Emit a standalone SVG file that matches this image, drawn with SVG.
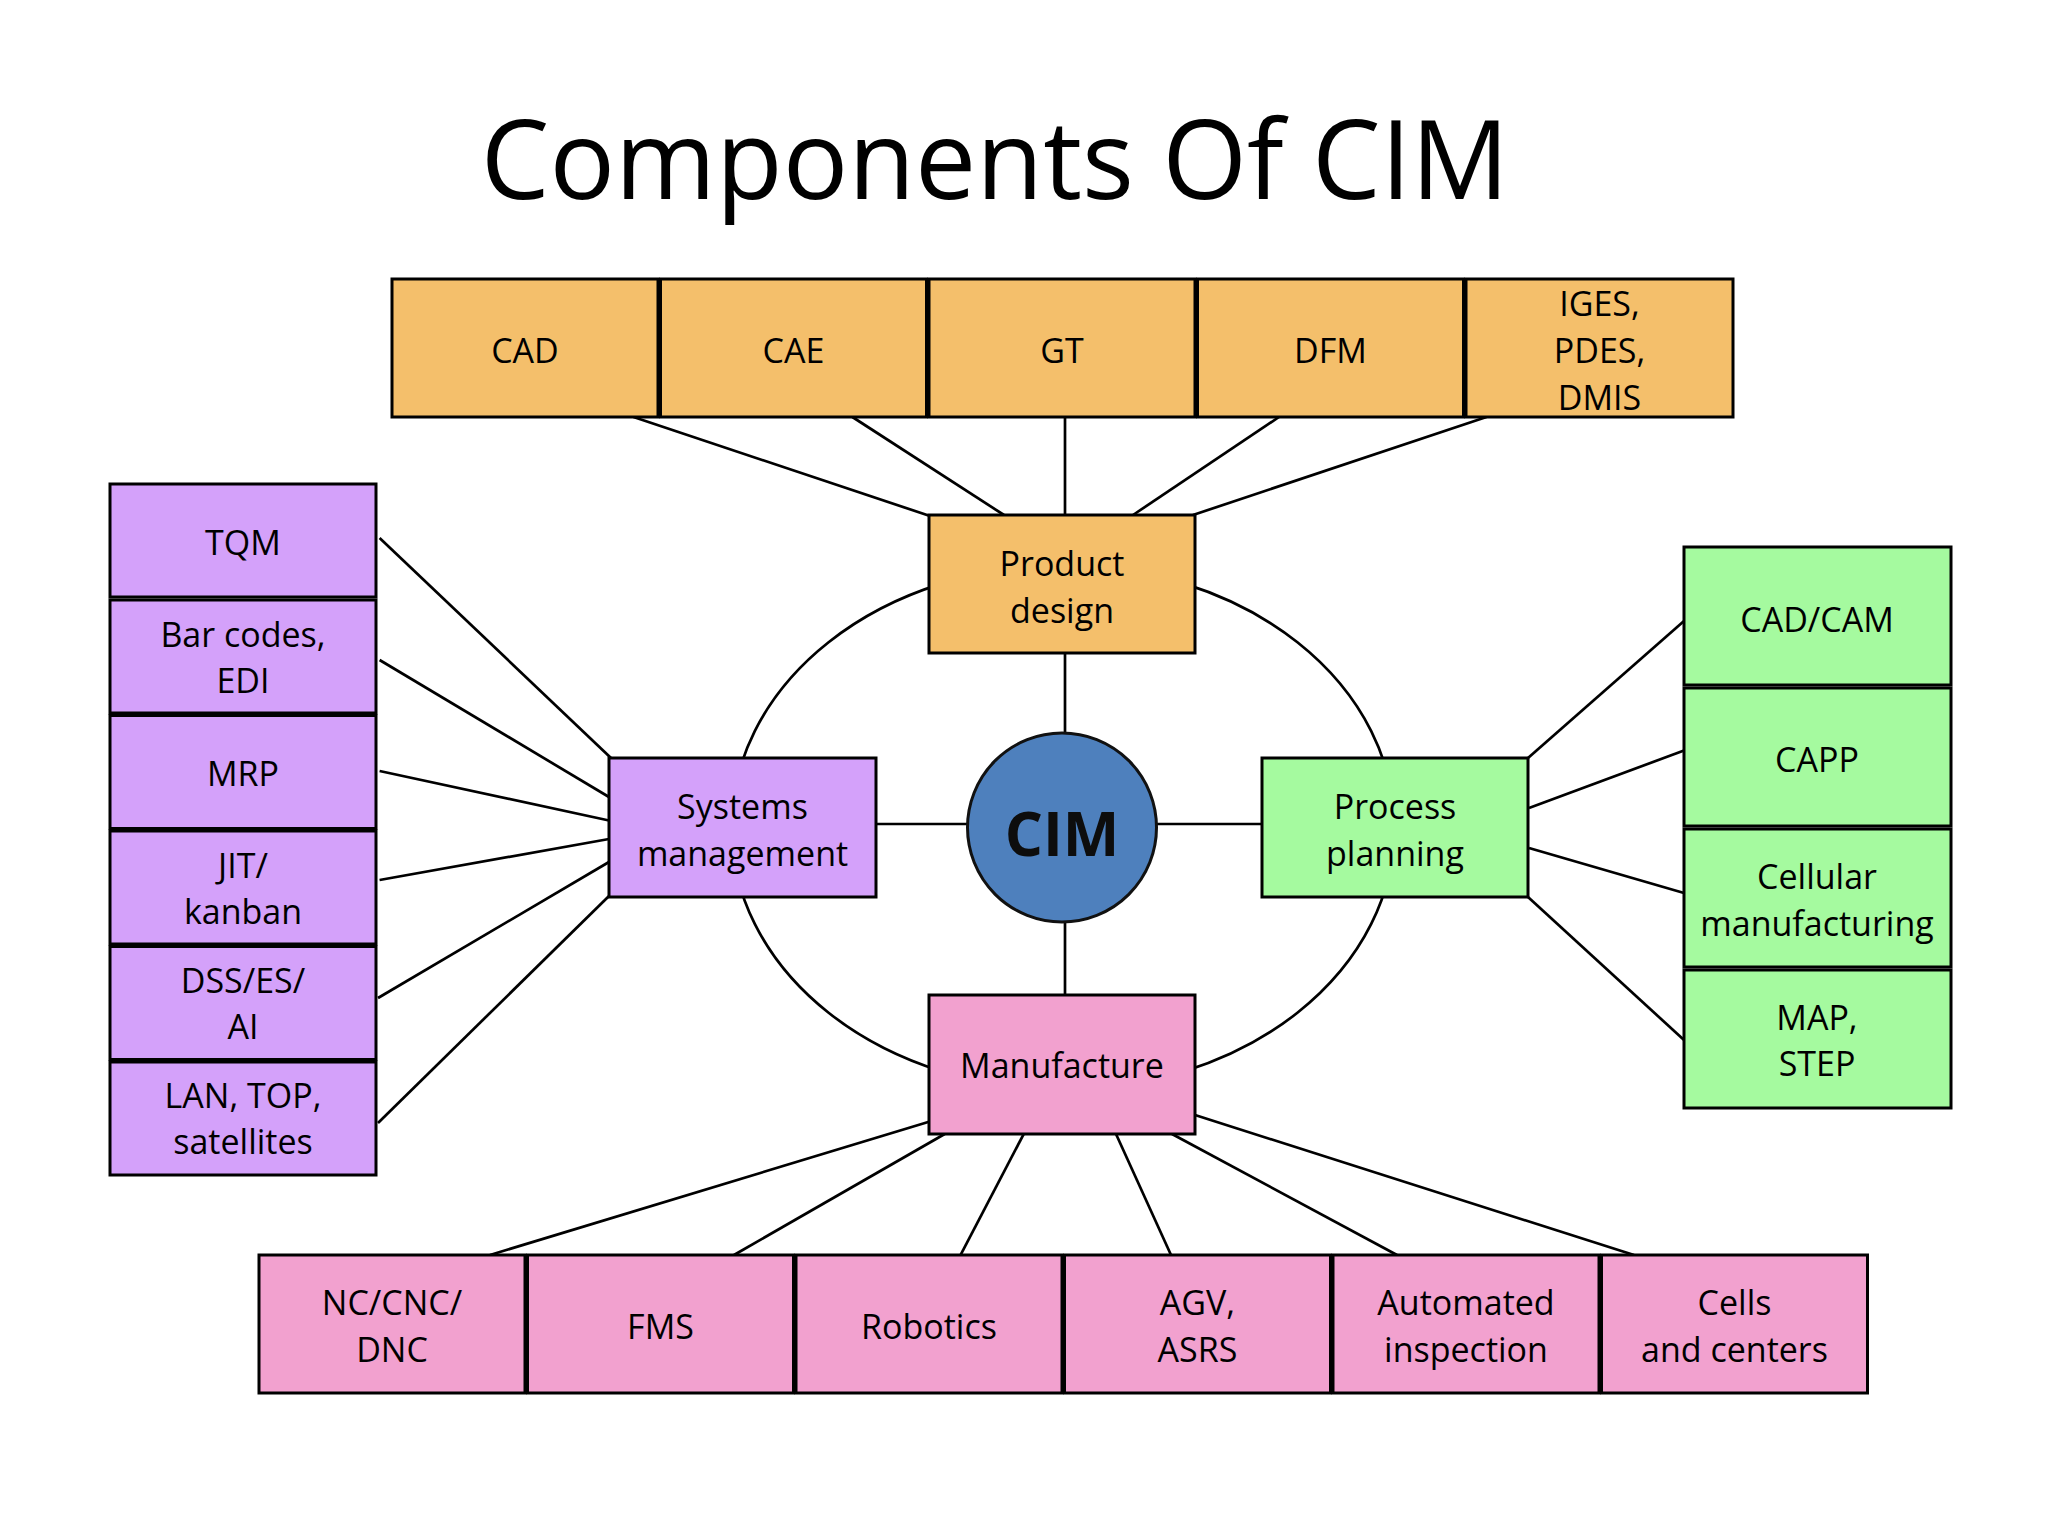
<svg xmlns="http://www.w3.org/2000/svg" width="2048" height="1536" viewBox="0 0 2048 1536">
<style>
.t{font-family:"Open Sans","Liberation Sans",sans-serif;font-size:34px;fill:#000;text-anchor:middle}
.b{stroke:#000;stroke-width:3}
.o{fill:#F4BF6B}
.p{fill:#D4A1FA}
.g{fill:#A5FA9F}
.k{fill:#F2A1CF}
.c{stroke:#000;stroke-width:2.7;fill:none}
</style>
<rect width="2048" height="1536" fill="#fff"/>
<text x="995" y="199" font-family="'Open Sans','Liberation Sans',sans-serif" font-size="109" text-anchor="middle" fill="#000">Components Of CIM</text>
<g id="connectors" class="c">
<ellipse cx="1063" cy="827.5" rx="331.5" ry="262"/>
<line x1="633.5" y1="417" x2="930" y2="516"/>
<line x1="852.4" y1="417" x2="1004" y2="515"/>
<line x1="1065" y1="417" x2="1065" y2="515"/>
<line x1="1279" y1="417" x2="1133" y2="515"/>
<line x1="1486.5" y1="417" x2="1193" y2="515"/>
<line x1="1065" y1="653" x2="1065" y2="733"/>
<line x1="1065" y1="922" x2="1065" y2="995"/>
<line x1="876" y1="824" x2="968" y2="824"/>
<line x1="1157" y1="824" x2="1262" y2="824"/>
<line x1="379.6" y1="538" x2="611" y2="758"/>
<line x1="379.6" y1="660" x2="609" y2="797"/>
<line x1="379.6" y1="771" x2="609" y2="820.5"/>
<line x1="379.6" y1="880" x2="609" y2="839"/>
<line x1="378" y1="998" x2="609" y2="862"/>
<line x1="378" y1="1123" x2="609" y2="896"/>
<line x1="1528" y1="758" x2="1684" y2="621"/>
<line x1="1529" y1="808" x2="1684" y2="750.5"/>
<line x1="1529" y1="848" x2="1684" y2="893"/>
<line x1="1528" y1="897" x2="1684" y2="1040"/>
<line x1="929" y1="1121.7" x2="490" y2="1255"/>
<line x1="944.7" y1="1134" x2="734" y2="1255"/>
<line x1="1023.7" y1="1134" x2="960.5" y2="1255"/>
<line x1="1116" y1="1134" x2="1171" y2="1255"/>
<line x1="1172" y1="1134" x2="1397" y2="1255"/>
<line x1="1195" y1="1115" x2="1634" y2="1255"/>
</g>
<g id="cad"><rect class="b o" x="392" y="279" width="266" height="138"/><text class="t" x="525" y="363">CAD</text></g>
<g id="cae"><rect class="b o" x="660.5" y="279" width="266" height="138"/><text class="t" x="793.5" y="363">CAE</text></g>
<g id="gt"><rect class="b o" x="929" y="279" width="266" height="138"/><text class="t" x="1062" y="363">GT</text></g>
<g id="dfm"><rect class="b o" x="1197.5" y="279" width="266" height="138"/><text class="t" x="1330.5" y="363">DFM</text></g>
<g id="iges"><rect class="b o" x="1466" y="279" width="267" height="138"/><text class="t" x="1599.5" y="316">IGES,</text><text class="t" x="1599.5" y="363">PDES,</text><text class="t" x="1599.5" y="410">DMIS</text></g>
<g id="product-design"><rect class="b o" x="929" y="515" width="266" height="138"/><text class="t" x="1062" y="576">Product</text><text class="t" x="1062" y="623">design</text></g>
<g id="cim"><circle cx="1062" cy="827.5" r="94.5" fill="#4E80BD" stroke="#111" stroke-width="3"/><text x="1062" y="856" font-family="'Open Sans','Liberation Sans',sans-serif" font-size="60" font-weight="bold" text-anchor="middle" fill="#0d0d0d">CIM</text></g>
<g id="systems-management"><rect class="b p" x="609" y="758" width="267" height="139"/><text class="t" x="742.5" y="819">Systems</text><text class="t" x="742.5" y="866">management</text></g>
<g id="process-planning"><rect class="b g" x="1262" y="758" width="266" height="139"/><text class="t" x="1395" y="819">Process</text><text class="t" x="1395" y="866">planning</text></g>
<g id="manufacture"><rect class="b k" x="929" y="995" width="266" height="139"/><text class="t" x="1062" y="1078">Manufacture</text></g>
<g id="tqm"><rect class="b p" x="110" y="484" width="266" height="113"/><text class="t" x="243" y="555">TQM</text></g>
<g id="bar-codes"><rect class="b p" x="110" y="600" width="266" height="113"/><text class="t" x="243" y="647">Bar codes,</text><text class="t" x="243" y="693">EDI</text></g>
<g id="mrp"><rect class="b p" x="110" y="715.5" width="266" height="113"/><text class="t" x="243" y="786">MRP</text></g>
<g id="jit"><rect class="b p" x="110" y="831" width="266" height="113"/><text class="t" x="243" y="878">JIT/</text><text class="t" x="243" y="924">kanban</text></g>
<g id="dss"><rect class="b p" x="110" y="946.5" width="266" height="113"/><text class="t" x="243" y="993">DSS/ES/</text><text class="t" x="243" y="1039">AI</text></g>
<g id="lan"><rect class="b p" x="110" y="1062" width="266" height="113"/><text class="t" x="243" y="1108">LAN, TOP,</text><text class="t" x="243" y="1154">satellites</text></g>
<g id="cad-cam"><rect class="b g" x="1684" y="547" width="267" height="138"/><text class="t" x="1817" y="632">CAD/CAM</text></g>
<g id="capp"><rect class="b g" x="1684" y="688" width="267" height="138"/><text class="t" x="1817" y="772">CAPP</text></g>
<g id="cellular"><rect class="b g" x="1684" y="829" width="267" height="138"/><text class="t" x="1817" y="889">Cellular</text><text class="t" x="1817" y="936">manufacturing</text></g>
<g id="map-step"><rect class="b g" x="1684" y="970" width="267" height="138"/><text class="t" x="1817" y="1030">MAP,</text><text class="t" x="1817" y="1076">STEP</text></g>
<g id="nc"><rect class="b k" x="259" y="1255" width="266" height="138"/><text class="t" x="392" y="1315">NC/CNC/</text><text class="t" x="392" y="1362">DNC</text></g>
<g id="fms"><rect class="b k" x="527.5" y="1255" width="266" height="138"/><text class="t" x="660.5" y="1339">FMS</text></g>
<g id="robotics"><rect class="b k" x="796" y="1255" width="266" height="138"/><text class="t" x="929" y="1339">Robotics</text></g>
<g id="agv"><rect class="b k" x="1064.5" y="1255" width="266" height="138"/><text class="t" x="1197.5" y="1315">AGV,</text><text class="t" x="1197.5" y="1362">ASRS</text></g>
<g id="automated-inspection"><rect class="b k" x="1333" y="1255" width="266" height="138"/><text class="t" x="1466" y="1315">Automated</text><text class="t" x="1466" y="1362">inspection</text></g>
<g id="cells"><rect class="b k" x="1601.5" y="1255" width="266" height="138"/><text class="t" x="1734.5" y="1315">Cells</text><text class="t" x="1734.5" y="1362">and centers</text></g>
</svg>
